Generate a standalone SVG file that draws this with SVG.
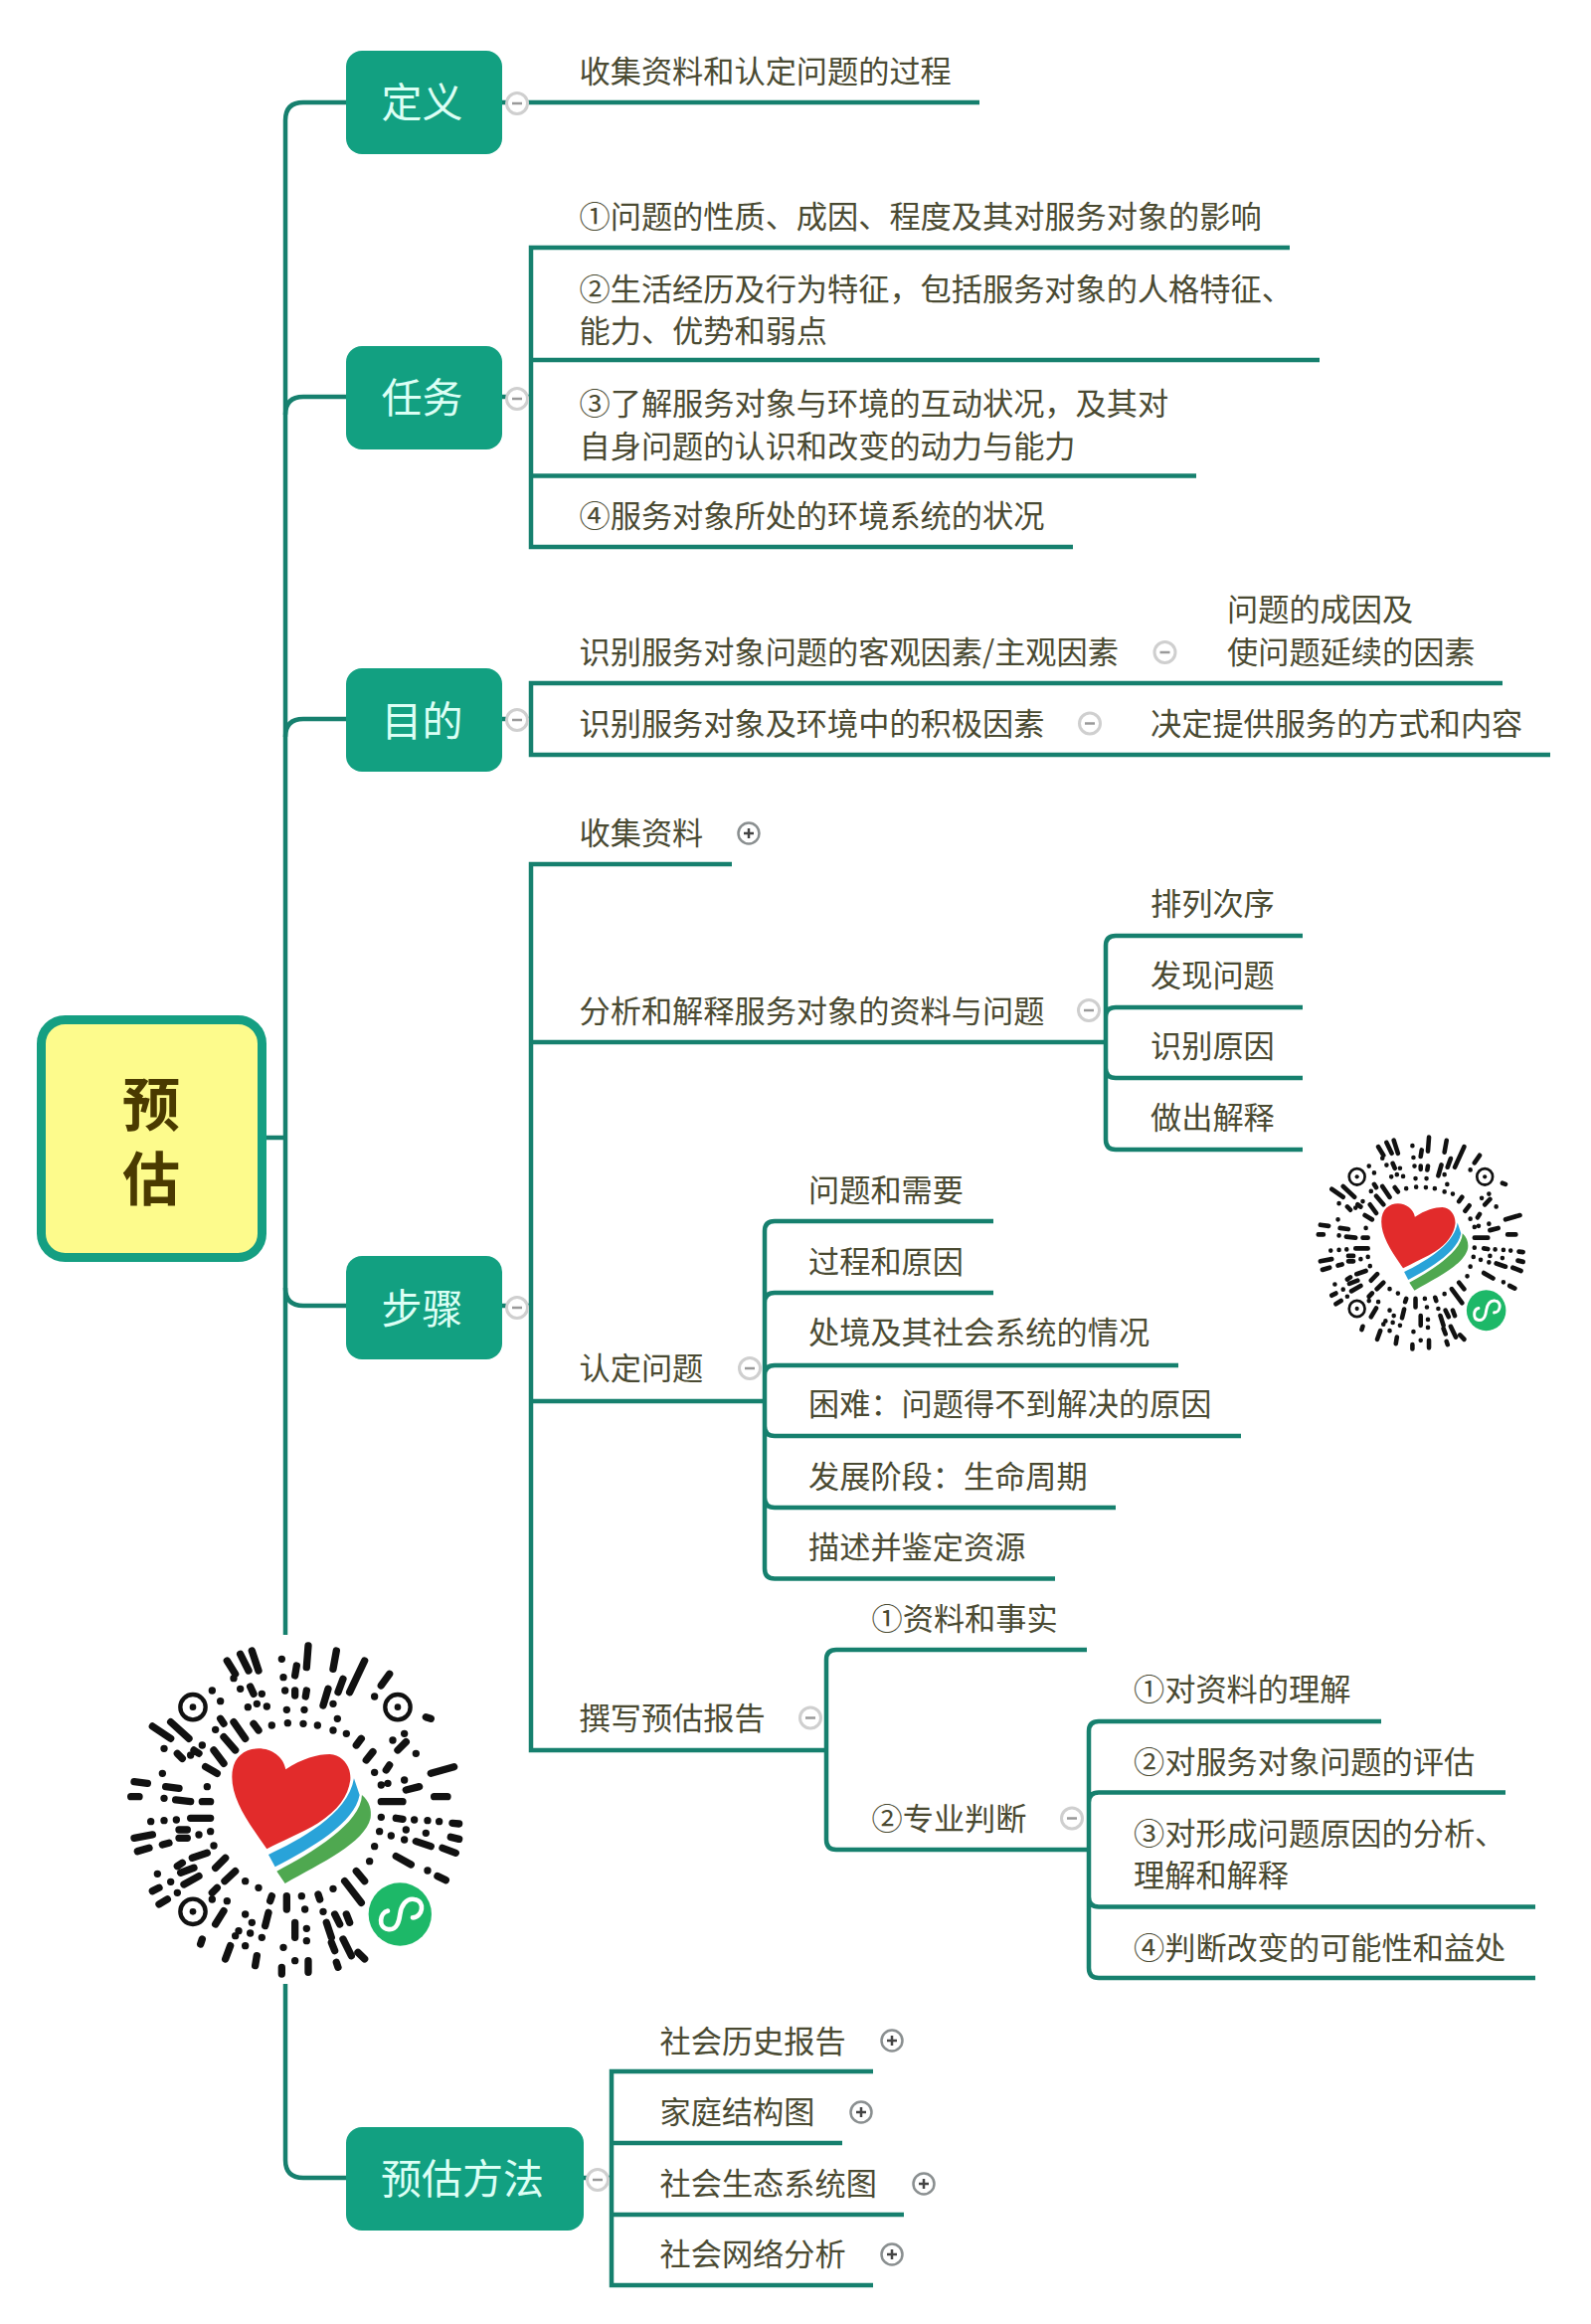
<svg xmlns="http://www.w3.org/2000/svg" xmlns:xlink="http://www.w3.org/1999/xlink" width="1600" height="2337" viewBox="0 0 1600 2337">
<style>
text{font-family:"Noto Sans CJK SC","Noto Sans",sans-serif}
.t{font-size:31.200px;fill:#4a4a32}
.n{font-size:41px;fill:#dcfff5;text-anchor:middle}
.r{font-size:58px;font-weight:700;fill:#4a3a00;text-anchor:middle}
.node{fill:#12a081}
.c{fill:none;stroke:#16806e;stroke-width:4.500}
.mn{fill:#fff;stroke:#cfcfcf;stroke-width:3}
.mb{stroke:#9a9a9a;stroke-width:2.500}
.pl{fill:#fff;stroke:#8a8f90;stroke-width:2.500}
.pb{stroke:#444;stroke-width:2.500}
.q{fill:none;stroke:#111;stroke-width:22;stroke-linecap:round}
</style>
<defs>
<g id="tm"><circle class="mn" r="10.500"/><path class="mb" d="M-5 0H5"/></g>
<g id="tp"><circle class="pl" r="10.500"/><path class="pb" d="M-5 0H5M0-5V5"/></g>
<g id="qr">
<circle cx="282" cy="290" r="38" fill="none" stroke="#111" stroke-width="13"/><circle cx="282" cy="290" r="10" fill="#111"/>
<circle cx="900" cy="290" r="38" fill="none" stroke="#111" stroke-width="13"/><circle cx="900" cy="290" r="10" fill="#111"/>
<circle cx="282" cy="907" r="38" fill="none" stroke="#111" stroke-width="13"/><circle cx="282" cy="907" r="10" fill="#111"/>
<path class="q" d="M385 150L410 190M425 130L450 180M460 120L480 180M405 203h.1M550 145h.1M630 105L625 170M595 165L590 195M555 200h.1M715 120L705 175M800 150L755 245M735 205L720 245M690 235L675 285M705 280h.1M875 190L850 225M830 258h.1M340 240h.1M365 272h.1M425 235h.1M455 228L465 250M490 250h.1M475 280h.1M448 290h.1M505 288h.1M560 240h.1M590 240V255M625 240L622 258M565 298h.1M618 298h.1M520 345h.1M568 338h.1M615 340h.1M658 345h.1M718 325h.1M705 360h.1M365 325L375 340M350 358h.1M405 335L440 385M465 340L480 360M160 348L215 385M215 335L270 385M375 380L410 420M345 420L375 460M195 415h.1M235 430L250 445M285 420L300 430M310 405h.1M275 435h.1M320 470L355 490M745 370h.1M790 385L775 405M825 425L805 450M985 320L1000 325M885 390h.1M925 395L900 420M920 370h.1M955 430h.1M875 465L865 480M830 487h.1M1000 490L1070 470M870 520h.1M850 525h.1M920 510h.1M925 540L965 530M1010 560H1050M850 575H915M105 515L145 520M95 560H120M190 490h.1M200 530L240 535M195 565h.1M230 570L275 575M310 575H335M325 530h.1M155 635h.1M195 632h.1M232 630h.1M275 625H335M240 660H265M300 675h.1M335 665h.1M105 685L160 675M240 685H265M190 705L210 700M345 708h.1M115 725L150 715M280 745L325 730M350 775L380 745M235 770L250 760M245 790L285 775M255 825L300 800M378 815L410 785M175 793h.1M215 817h.1M160 845L180 835M235 850h.1M180 885L205 870M340 850L355 835M385 875h.1M340 870h.1M440 815h.1M480 835h.1M520 860L515 875M565 860V900M610 860h.1M660 855L665 870M705 838h.1M620 900h.1M675 907h.1M740 815L790 880M775 785L800 815M815 755h.1M350 945L375 905M440 915h.1M510 910L500 950M460 940h.1M590 940V985M625 958h.1M625 995h.1M685 940L700 985M710 915L725 945M745 915L755 940M420 965h.1M410 980h.1M455 972h.1M490 985h.1M440 1010h.1M310 990L305 1005M395 1010L380 1050M475 1040L470 1070M555 1015h.1M700 1000L710 1025M735 990L760 1040M780 1030L800 1050M590 1055h.1M630 1055V1090M550 1075V1095M715 1060L720 1075M850 622h.1M895 625L915 628M950 630h.1M990 632h.1M1025 635h.1M1065 640L1085 642M845 665h.1M880 678h.1M925 660h.1M920 690h.1M985 670h.1M1060 682L1085 688M955 695L1000 710M1035 715L1075 730M830 710h.1M895 740L940 765M990 783h.1M1020 800L1045 812"/>
<path fill="#e22b2b" d="M505 718C450 640 400 570 400 500C400 440 440 415 480 415C520 415 555 440 562 478C610 445 660 432 695 432C735 435 760 470 757 510C750 560 720 600 660 640C610 670 550 695 505 718Z"/>
<path fill="#29a3d9" d="M510 735C600 692 750 615 768 505L785 555C770 640 640 715 530 772Z"/>
<path fill="#4fa850" d="M535 785C640 730 790 640 792 555C815 575 822 600 818 625C800 700 670 760 560 822Z"/>
<circle cx="907" cy="915" r="95" fill="#1db868"/>
<path fill="none" stroke="#fff" stroke-width="14" stroke-linecap="round" d="M870 905C845 910 840 955 870 960C900 965 905 930 907 915C910 890 925 865 950 870C985 875 975 925 945 925"/>
</g>
</defs>
<rect width="1600" height="2337" fill="#fff"/>
<g id="connectors">
<path class="c" d="M348 103H305Q287 103 287 121V1644"/>
<path class="c" d="M287 1995V2172Q287 2190 305 2190H348"/>
<path class="c" d="M348 399H305Q287 399 287 417"/>
<path class="c" d="M348 723H305Q287 723 287 741"/>
<path class="c" d="M287 1295Q287 1313 305 1313H348"/>
<path class="c" d="M268 1144H287"/>
<path class="c" d="M505 103H985"/>
<path class="c" d="M505 399H534"/>
<path class="c" d="M1297 249H534V550H1079M534 362H1327M534 478.500H1203"/>
<path class="c" d="M505 723H534"/>
<path class="c" d="M1511 687H534V759H1559"/>
<path class="c" d="M505 1313H534"/>
<path class="c" d="M736 869H534V1760H831M534 1048H1112M534 1409H769"/>
<path class="c" d="M1310 941H1122Q1112 941 1112 951V1146Q1112 1156 1122 1156H1310M1112 1023Q1112 1013 1122 1013H1310M1112 1074Q1112 1084 1122 1084H1310"/>
<path class="c" d="M999 1228H779Q769 1228 769 1238V1577.500Q769 1587.500 779 1587.500H1061M769 1310Q769 1300 779 1300H999M769 1383Q769 1373 779 1373H1185M769 1434Q769 1444 779 1444H1248M769 1506Q769 1516 779 1516H1122"/>
<path class="c" d="M1093 1659H841Q831 1659 831 1669V1850Q831 1860 841 1860H1095"/>
<path class="c" d="M1389 1731H1105Q1095 1731 1095 1741V1979Q1095 1989 1105 1989H1544M1095 1812.500Q1095 1802.500 1105 1802.500H1514M1095 1907.500Q1095 1917.500 1105 1917.500H1544"/>
<path class="c" d="M587 2190H615"/>
<path class="c" d="M878 2083H615V2298H878M615 2155H847M615 2227H909"/>
</g>
<g id="root"><rect x="41.500" y="1025.500" width="222" height="239" rx="24" fill="#fdfb8c" stroke="#159f82" stroke-width="9"/><text class="r" x="152" y="1132">预</text><text class="r" x="152" y="1207">估</text></g>
<g id="n-def"><rect class="node" x="348" y="51" width="157" height="104" rx="16"/><text class="n" x="424.500" y="118">定义</text><use xlink:href="#tm" href="#tm" x="520" y="104"/></g>
<g id="n-task"><rect class="node" x="348" y="348" width="157" height="104" rx="16"/><text class="n" x="424.500" y="415">任务</text><use xlink:href="#tm" href="#tm" x="520" y="401"/></g>
<g id="n-aim"><rect class="node" x="348" y="672" width="157" height="104" rx="16"/><text class="n" x="424.500" y="739.500">目的</text><use xlink:href="#tm" href="#tm" x="520" y="724"/></g>
<g id="n-step"><rect class="node" x="348" y="1263" width="157" height="104" rx="16"/><text class="n" x="424.500" y="1331">步骤</text><use xlink:href="#tm" href="#tm" x="520" y="1315"/></g>
<g id="n-method"><rect class="node" x="348" y="2139" width="239" height="104" rx="16"/><text class="n" x="465" y="2206">预估方法</text><use xlink:href="#tm" href="#tm" x="601" y="2192"/></g>
<g id="leaves">
<text class="t" x="582.500" y="82.500">收集资料和认定问题的过程</text>
<text class="t" x="582.500" y="229">①问题的性质、成因、程度及其对服务对象的影响</text>
<text class="t" x="582.500" y="302">②生活经历及行为特征，包括服务对象的人格特征、</text>
<text class="t" x="582.500" y="343.500">能力、优势和弱点</text>
<text class="t" x="582.500" y="416.500">③了解服务对象与环境的互动状况，及其对</text>
<text class="t" x="582.500" y="460">自身问题的认识和改变的动力与能力</text>
<text class="t" x="582.500" y="530">④服务对象所处的环境系统的状况</text>
<text class="t" x="582.500" y="667">识别服务对象问题的客观因素/主观因素</text><use xlink:href="#tm" href="#tm" x="1171.500" y="656"/>
<text class="t" x="1234" y="624">问题的成因及</text>
<text class="t" x="1234" y="667">使问题延续的因素</text>
<text class="t" x="582.500" y="738.500">识别服务对象及环境中的积极因素</text><use xlink:href="#tm" href="#tm" x="1096" y="727.500"/>
<text class="t" x="1157" y="738.500">决定提供服务的方式和内容</text>
<text class="t" x="582.500" y="849">收集资料</text><use xlink:href="#tp" href="#tp" x="753" y="838"/>
<text class="t" x="582.500" y="1027.500">分析和解释服务对象的资料与问题</text><use xlink:href="#tm" href="#tm" x="1095" y="1016"/>
<text class="t" x="1157" y="920">排列次序</text>
<text class="t" x="1157" y="992">发现问题</text>
<text class="t" x="1157" y="1063">识别原因</text>
<text class="t" x="1157" y="1135">做出解释</text>
<text class="t" x="582.500" y="1387">认定问题</text><use xlink:href="#tm" href="#tm" x="754" y="1376"/>
<text class="t" x="813" y="1208">问题和需要</text>
<text class="t" x="813" y="1279.500">过程和原因</text>
<text class="t" x="813" y="1351">处境及其社会系统的情况</text>
<text class="t" x="813" y="1423">困难：问题得不到解决的原因</text>
<text class="t" x="813" y="1495.500">发展阶段：生命周期</text>
<text class="t" x="813" y="1567">描述并鉴定资源</text>
<text class="t" x="582.500" y="1738.500">撰写预估报告</text><use xlink:href="#tm" href="#tm" x="815" y="1727.500"/>
<text class="t" x="876.500" y="1639">①资料和事实</text>
<text class="t" x="876.500" y="1840">②专业判断</text><use xlink:href="#tm" href="#tm" x="1078" y="1828.500"/>
<text class="t" x="1140" y="1710">①对资料的理解</text>
<text class="t" x="1140" y="1783">②对服务对象问题的评估</text>
<text class="t" x="1140" y="1855">③对形成问题原因的分析、</text>
<text class="t" x="1140" y="1897">理解和解释</text>
<text class="t" x="1140" y="1970">④判断改变的可能性和益处</text>
<text class="t" x="663.500" y="2063.500">社会历史报告</text><use xlink:href="#tp" href="#tp" x="897" y="2052"/>
<text class="t" x="663.500" y="2135">家庭结构图</text><use xlink:href="#tp" href="#tp" x="866" y="2124"/>
<text class="t" x="663.500" y="2207">社会生态系统图</text><use xlink:href="#tp" href="#tp" x="929" y="2196"/>
<text class="t" x="663.500" y="2278">社会网络分析</text><use xlink:href="#tp" href="#tp" x="897" y="2267"/>
</g>
<use xlink:href="#qr" href="#qr" transform="translate(100 1620) scale(.3333)"/>
<use xlink:href="#qr" href="#qr" transform="translate(1306 1121) scale(.208 .215)"/>
</svg>
